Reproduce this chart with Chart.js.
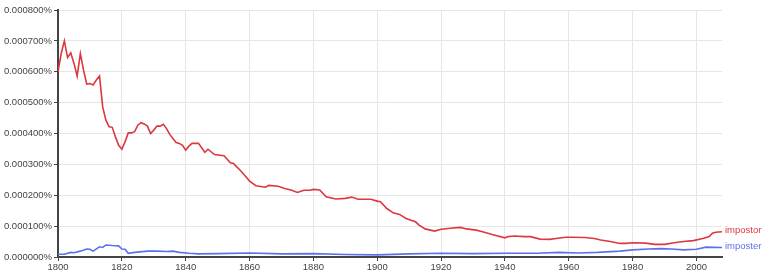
<!DOCTYPE html>
<html>
<head>
<meta charset="utf-8">
<script src="https://cdn.jsdelivr.net/npm/chart.js@4"></script>
<style>
  html, body { margin: 0; padding: 0; background: #fff; }
  #box { width: 768px; height: 279px; }
</style>
</head>
<body>
<div id="box"><canvas id="ngram-chart"></canvas></div>
<script>
// values, in percent
const impostorYears = [1800,1801,1802,1803,1804,1805,1806,1807,1808,1809,1810,1811,1812,1813,1814,1815,1816,1817,1818,1819,
  1820,1821,1822,1823,1824,1825,1826,1827,1828,1829,1830,1831,1832,1833,1834,1835,1836,1837,1838,1839,
  1840,1841,1842,1844,1845,1846,1847,1849,1852,1854,1855,1856,1857,1859,1860,1862,1865,1866,1869,1871,
  1873,1875,1877,1879,1880,1882,1884,1887,1890,1892,1894,1898,1900,1901,1903,1905,1907,1909,1912,1913,
  1915,1918,1920,1923,1926,1928,1931,1933,1936,1940,1941,1943,1946,1948,1951,1954,1956,1959,1961,1965,
  1968,1970,1973,1976,1978,1980,1984,1987,1990,1993,1996,1999,2002,2004,2005,2006,2008];
const impostorValues = [0.000600,0.000659,0.000700,0.000646,0.000661,0.000627,0.000586,0.000659,0.000605,0.000560,
  0.000562,0.000557,0.000573,0.000586,0.000486,0.000443,0.000422,0.000420,0.000389,0.000362,
  0.000349,0.000373,0.000402,0.000402,0.000406,0.000427,0.000435,0.000431,0.000424,0.000400,
  0.000411,0.000424,0.000424,0.000430,0.000416,0.000397,0.000384,0.000371,0.000368,0.000362,
  0.000346,0.000359,0.000368,0.000368,0.000354,0.000339,0.000349,0.000332,0.000328,0.000305,
  0.000303,0.000292,0.000282,0.000258,0.000246,0.000231,0.000226,0.000232,0.000229,0.000222,
  0.000217,0.000209,0.000216,0.000216,0.000219,0.000217,0.000195,0.000188,0.000190,0.000194,
  0.000187,0.000187,0.000181,0.000179,0.000157,0.000143,0.000138,0.000125,0.000114,0.000104,
  0.000091,0.000084,0.000090,0.000093,0.000096,0.000091,0.000087,0.000082,0.000073,0.000062,
  0.000066,0.000068,0.000066,0.000066,0.000058,0.000057,0.000060,0.000064,0.000064,0.000063,
  0.000060,0.000055,0.000050,0.000044,0.000044,0.000046,0.000045,0.000041,0.000041,0.000046,
  0.000050,0.000053,0.000060,0.000066,0.000077,0.000080,0.000082];

const imposterYears = [1800,1802,1804,1805,1807,1809,1810,1811,1813,1814,1815,1817,1819,1820,1821,1822,1824,1828,1831,1834,
  1836,1838,1841,1844,1850,1860,1870,1880,1890,1900,1910,1920,1930,1940,1950,1957,1963,1969,1976,1980,
  1985,1989,1992,1996,2000,2003,2008];
const imposterValues = [0.000009,0.000009,0.000015,0.000014,0.000019,0.000026,0.000025,0.000019,0.000033,0.000031,
  0.000039,0.000037,0.000036,0.000026,0.000025,0.000012,0.000015,0.000019,0.000019,0.000018,
  0.000019,0.000015,0.000012,0.000010,0.000011,0.000013,0.000010,0.000011,0.000008,0.000007,
  0.000010,0.000012,0.000011,0.000012,0.000012,0.000015,0.000013,0.000015,0.000019,0.000023,
  0.000026,0.000027,0.000026,0.000023,0.000025,0.000032,0.000031];

const xTicks = [1800, 1820, 1840, 1860, 1880, 1900, 1920, 1940, 1960, 1980, 2000];
const yTicks = [0, 0.0001, 0.0002, 0.0003, 0.0004, 0.0005, 0.0006, 0.0007, 0.0008];

const red = 'rgb(221, 55, 65)';
const blue = 'rgb(92, 112, 236)';
const fontFamily = '"Liberation Sans", Arial, sans-serif';

function toPoints(years, values) {
  return years.map((y, i) => ({ x: y, y: values[i] }));
}

// word labels drawn next to the end of each line
const endLabels = {
  id: 'endLabels',
  afterDatasetsDraw(chart) {
    const ctx = chart.ctx;
    ctx.save();
    ctx.font = '9.5px ' + fontFamily;
    ctx.textBaseline = 'middle';
    ctx.textAlign = 'left';
    chart.data.datasets.forEach((ds, i) => {
      const pts = chart.getDatasetMeta(i).data;
      const last = pts[pts.length - 1];
      ctx.fillStyle = ds.borderColor;
      ctx.fillText(ds.label, last.x + 3, last.y - 1);
    });
    ctx.restore();
  }
};

let ctx = document.getElementById('ngram-chart').getContext('2d');

let ngramChart = new Chart(ctx, {
  type: 'line',
  data: {
    datasets: [{
      label: 'impostor',
      data: toPoints(impostorYears, impostorValues),
      borderColor: red,
      borderWidth: 1.6,
      pointRadius: 0,
      fill: false,
      tension: 0
    },
    {
      label: 'imposter',
      data: toPoints(imposterYears, imposterValues),
      borderColor: blue,
      borderWidth: 1.6,
      pointRadius: 0,
      fill: false,
      tension: 0
    }]
  },
  options: {
    responsive: true,
    maintainAspectRatio: false,
    animation: false,
    layout: { padding: { top: 10, right: 46, left: 0, bottom: 0 } },
    plugins: {
      legend: { display: false },
      tooltip: { enabled: false }
    },
    scales: {
      x: {
        type: 'linear',
        min: 1800,
        max: 2008,
        afterBuildTicks: (scale) => { scale.ticks = xTicks.map(v => ({ value: v })); },
        afterFit: (scale) => { scale.height = 22; },
        grid: { color: '#e6e6e6', tickColor: '#444', tickLength: 4 },
        border: { color: '#444', width: 2 },
        ticks: {
          color: '#444',
          padding: 1,
          maxRotation: 0,
          font: { family: fontFamily, size: 9.5 },
          callback: (v) => String(v)
        }
      },
      y: {
        min: 0,
        max: 0.0008,
        afterBuildTicks: (scale) => { scale.ticks = yTicks.map(v => ({ value: v })); },
        afterFit: (scale) => { scale.width = 58; },
        grid: { color: '#e6e6e6', tickColor: '#444', tickLength: 4 },
        border: { color: '#444', width: 2 },
        ticks: {
          color: '#444',
          padding: 2,
          font: { family: fontFamily, size: 9.5 },
          callback: (v) => v.toFixed(6) + '%'
        }
      }
    }
  },
  plugins: [endLabels]
});
</script>
</body>
</html>
